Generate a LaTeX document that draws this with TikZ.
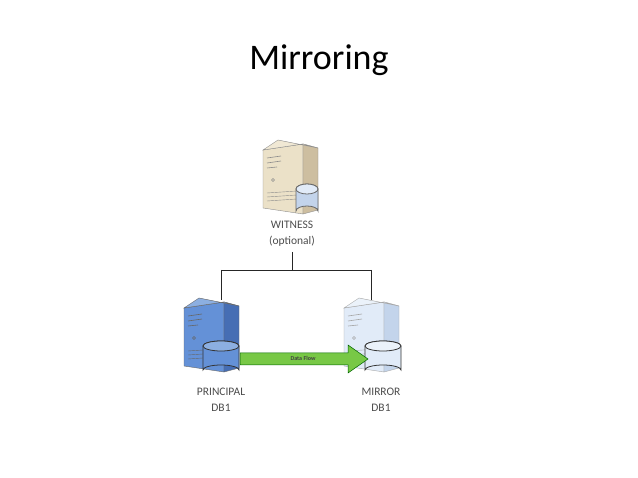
\documentclass[tikz,border=0pt]{standalone}
\usepackage{fontspec}
\setmainfont{Carlito}
\usetikzlibrary{shapes.geometric,arrows.meta}
\definecolor{pside}{RGB}{70,110,180}
\definecolor{pfront}{RGB}{100,145,215}
\definecolor{ptop}{RGB}{140,175,225}
\definecolor{wfront}{RGB}{235,225,200}
\definecolor{wside}{RGB}{205,190,160}
\definecolor{wtop}{RGB}{240,232,212}
\definecolor{mfront}{RGB}{225,235,248}
\definecolor{mside}{RGB}{195,212,235}
\definecolor{mtop}{RGB}{235,242,250}
\definecolor{flow}{RGB}{120,200,70}
\tikzset{
 lbl/.style={font=\fontsize{11.5}{12}\selectfont, text=black!70, align=center, inner sep=0pt},
 conn/.style={draw=black!85, line width=0.8pt},
 pics/server/.style n args={4}{code={
   \fill[#1, draw=#3, line width=0.4pt] (0,12) -- (40,6) -- (40,76) -- (0,70) -- cycle;
   \fill[#2, draw=#3, line width=0.4pt] (40,6) -- (55,10) -- (55,72) -- (40,76) -- cycle;
   \fill[#4, draw=#3, line width=0.4pt] (0,12) -- (15,2) -- (55,10) -- (40,6) -- cycle;
   \draw[#3, line width=0.6pt] (4,20) -- (18,18) (4,25) -- (18,23) (4,30) -- (14,29);
   \draw[#3, line width=0.4pt] (4,55) -- (34,53) (4,59) -- (34,57) (4,63) -- (34,61);
   \draw[#3] (10,42) circle (1.5);
 }},
 pics/dbcyl/.style n args={5}{code={
   \fill[#1, draw=#3, line width=0.8pt] (0,0) -- (0,#4) arc[start angle=180,end angle=360,x radius=#2,y radius=5] -- (2*#2,0) arc[start angle=0,end angle=-180,x radius=#2,y radius=5];
   \fill[#5, draw=#3, line width=0.8pt] (#2,0) ellipse[x radius=#2,y radius=5];
 }}
}
\begin{document}
\begin{tikzpicture}[x=1pt,y=-1pt]
\useasboundingbox (0,0) rectangle (638,478);
\node[font=\fontsize{36}{40}\selectfont] (title) at (319,60) {Mirroring};
% witness
\pic at (263,138) {server={wfront}{wside}{black!45}{wtop}};
\pic at (296,189) {dbcyl={mside}{11}{black!60}{22}{mfront}};
\node[lbl] (wit) at (292,225) {WITNESS};
\node[lbl] (opt) at (292,241) {(optional)};
% principal
\pic at (184,296) {server={pfront}{pside}{black!60}{ptop}};
\pic at (203,346) {dbcyl={pfront}{18}{black!80}{24}{ptop}};
\node[lbl] (pri) at (221,392) {PRINCIPAL};
\node[lbl] (pdb) at (221,408) {DB1};
% mirror
\pic at (344,296) {server={mfront}{mside}{black!35}{mtop}};
\pic at (365,346) {dbcyl={mfront}{18}{black!80}{24}{mtop}};
\node[lbl] (mir) at (381,392) {MIRROR};
\node[lbl] (mdb) at (381,408) {DB1};
% connectors
\coordinate (wt) at (292,252);
\coordinate (jn) at (292,270);
\coordinate (pl) at (221,270);
\coordinate (mr) at (371,270);
\coordinate (pt) at (221,300);
\coordinate (mt) at (371,300);
\draw[conn] (wt) -- (jn) (pl) -- (mr) (pl) -- (pt) (mr) -- (mt);
% data flow arrow
\fill[flow, draw=green!40!black, line width=0.5pt]
  (240,353) -- (348,353) -- (348,345) -- (368,359) -- (348,373) -- (348,365) -- (240,365) -- cycle;
\node[font=\fontsize{6}{6}\selectfont\bfseries, text=black!75] (df) at (303,358) {Data Flow};
\end{tikzpicture}
\end{document}
